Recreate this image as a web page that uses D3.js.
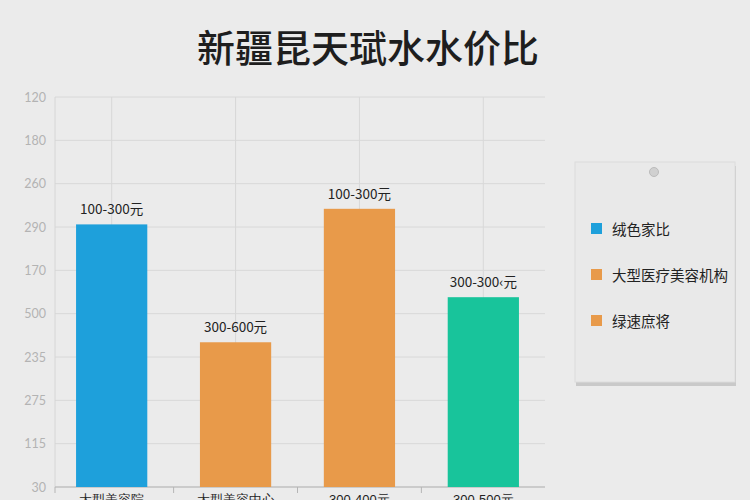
<!DOCTYPE html>
<html>
<head>
<meta charset="utf-8">
<script src="https://cdn.jsdelivr.net/npm/d3@7"></script>
<style>
  html, body { margin: 0; padding: 0; background: #ebebeb; }
  svg { display: block; font-family: "Noto Sans CJK SC", "Noto Sans", sans-serif; }
</style>
</head>
<body>
<svg id="chart" width="750" height="500"></svg>
<script>
const titleText = "新疆昆天珷水水价比";
const categories = ["大型美容院", "大型美容中心", "300-400元", "300-500元"];
const values = [303, 167, 321, 219];
const barLabels = ["100-300元", "300-600元", "100-300元", "300-300‹元"];
const barColors = ["#1ea0db", "#e89a4a", "#e89a4a", "#18c49b"];
const tickValues = [0, 50, 100, 150, 200, 250, 300, 350, 400, 450];
const tickLabels = ["30", "115", "275", "235", "500", "170", "290", "260", "180", "120"];
const legendNames = ["绒色家比", "大型医疗美容机构", "绿速庶将"];
const legendColors = ["#1ea0db", "#e89a4a", "#e89a4a"];

const svg = d3.select("#chart");
const W = 750, H = 500;
const plot = { left: 55, right: 545, top: 97, bottom: 487 };

const x = d3.scaleBand().domain(categories).range([plot.left, 540]).paddingInner(0.425).paddingOuter(0.17);
const y = d3.scaleLinear().domain([0, 450]).range([plot.bottom, plot.top]);

// title
svg.append("text").attr("x", 368).attr("y", 62).attr("text-anchor", "middle")
  .attr("font-size", 38).attr("font-weight", 500).attr("fill", "#1e1e1e").text(titleText);

// horizontal grid
svg.append("g").selectAll("line").data(tickValues).join("line")
  .attr("x1", plot.left).attr("x2", plot.right)
  .attr("y1", d => y(d)).attr("y2", d => y(d))
  .attr("stroke", "#d8d8d8").attr("stroke-width", 1);

// vertical grid lines at category centers
svg.append("g").selectAll("line").data(categories).join("line")
  .attr("x1", d => x(d) + x.bandwidth() / 2).attr("x2", d => x(d) + x.bandwidth() / 2)
  .attr("y1", plot.top).attr("y2", plot.bottom)
  .attr("stroke", "#d8d8d8").attr("stroke-width", 1);

// left axis line
svg.append("line").attr("x1", plot.left).attr("x2", plot.left)
  .attr("y1", plot.top).attr("y2", plot.bottom).attr("stroke", "#d6d6d6");

// y axis
const yAxis = d3.axisLeft(y).tickValues(tickValues).tickSize(0).tickPadding(9)
  .tickFormat((d, i) => tickLabels[i]);
const gy = svg.append("g").attr("transform", `translate(${plot.left},0)`).call(yAxis);
gy.select(".domain").remove();
gy.selectAll("text").attr("fill", "#b3b3b3").attr("font-size", 12.5).attr("font-family", "Lato, sans-serif");

// x axis
const xAxis = d3.axisBottom(x).tickSize(0).tickPadding(8);
const gx = svg.append("g").attr("transform", `translate(0,${plot.bottom})`).call(xAxis);
gx.select(".domain").attr("stroke", "#b5b5b5").attr("d", `M${plot.left},0H${plot.right}`);
gx.selectAll("text").attr("fill", "#222").attr("font-size", 13);
// separator ticks between bars
const seps = [plot.left].concat(categories.slice(1).map((c, i) => (x(categories[i]) + x.bandwidth() + x(c)) / 2));
gx.append("g").selectAll("line").data(seps).join("line")
  .attr("x1", d => d).attr("x2", d => d).attr("y1", 0).attr("y2", 6).attr("stroke", "#b5b5b5");

// bars
svg.append("g").selectAll("rect").data(values).join("rect")
  .attr("x", (d, i) => x(categories[i]))
  .attr("y", d => y(d))
  .attr("width", x.bandwidth())
  .attr("height", d => y(0) - y(d))
  .attr("fill", (d, i) => barColors[i]);

// bar labels
svg.append("g").selectAll("text").data(values).join("text")
  .attr("x", (d, i) => x(categories[i]) + x.bandwidth() / 2)
  .attr("y", d => y(d) - 10)
  .attr("text-anchor", "middle").attr("font-size", 13.5).attr("fill", "#222")
  .text((d, i) => barLabels[i]);

// legend box
const lg = svg.append("g");
lg.append("rect").attr("x", 576).attr("y", 164).attr("width", 160).attr("height", 220)
  .attr("fill", "#c9c9c9").attr("transform", "translate(0,2)");
lg.append("rect").attr("x", 575).attr("y", 162).attr("width", 160).attr("height", 220)
  .attr("fill", "#e9e9e9").attr("stroke", "#dcdcdc");
lg.append("circle").attr("cx", 654).attr("cy", 172).attr("r", 4.5).attr("fill", "#d0d0d0").attr("stroke", "#bbb");
const items = lg.selectAll("g.item").data(legendNames).join("g").attr("class", "item")
  .attr("transform", (d, i) => `translate(591,${229 + i * 46})`);
items.append("rect").attr("x", 0).attr("y", -6).attr("width", 11).attr("height", 11)
  .attr("fill", (d, i) => legendColors[i]);
items.append("text").attr("x", 21).attr("y", 5.5).attr("font-size", 14.5).attr("fill", "#222").text(d => d);
</script>
</body>
</html>
